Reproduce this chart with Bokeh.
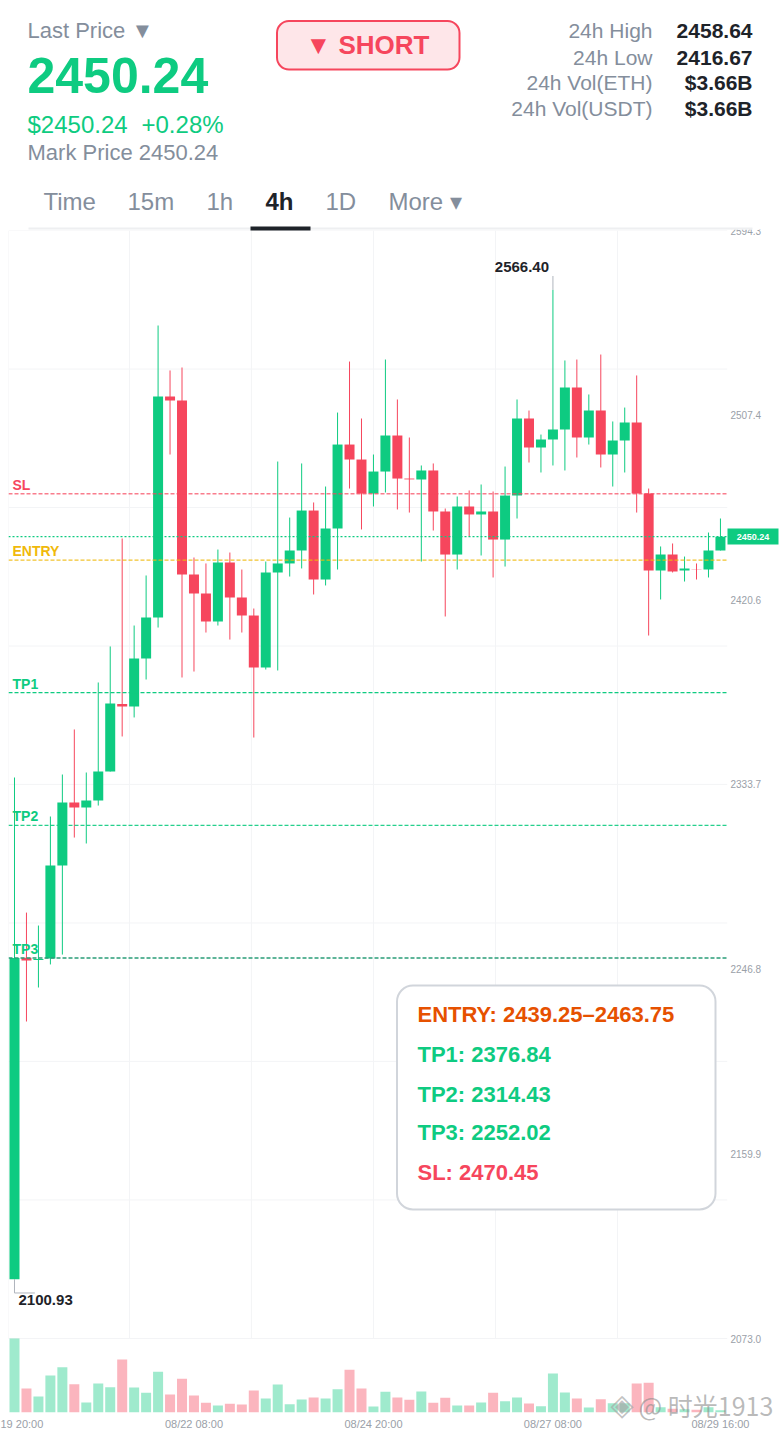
from bokeh.plotting import figure
from bokeh.models import Range1d, FixedTicker, Label, BoxAnnotation, ColumnDataSource
from bokeh.embed import file_html
from bokeh.resources import INLINE

FONT = "Liberation Sans"
CJK = "Noto Sans CJK SC"
GREEN = "#0ecb81"
RED = "#f6465d"
GRAY = "#848e9c"
DARK = "#1e2329"
YELLOW = "#f0b90b"
ORANGE = "#e65100"
GRID = "#f3f4f6"

opens = [2100.93,2252.1,2251.1,2251.8,2295.55,2325.2,2322.85,2326.15,2339.75,2371.55,2370.35,2392.95,2412.2,2516.2,2514.3,2432.45,2423.5,2410.35,2438.1,2421.65,
         2413.15,2388.7,2433.4,2437.65,2443.75,2462.55,2430.1,2454.1,2493.6,2486.55,2470.55,2480.9,2497.85,2477.6,2477.15,2481.4,2462.1,2441.85,2464.45,2460.7,
         2462.1,2448.9,2469.6,2505.85,2492.2,2495.95,2500.65,2520.45,2496.9,2509.6,2488.9,2495.5,2503.95,2470.55,2434.35,2441.85,2434.35,2435.1,2434.8,2443.75]
closes = [2252.02,2250.85,2251.55,2295.55,2325.2,2322.85,2326.15,2339.75,2371.75,2370.35,2392.95,2412.2,2516.2,2514.3,2432.45,2423.5,2410.35,2438.1,2421.65,2413.15,
          2388.7,2433.4,2437.65,2443.75,2462.55,2430.1,2454.1,2493.6,2486.55,2470.55,2480.9,2497.85,2477.6,2477.2,2481.4,2462.1,2441.85,2464.45,2460.7,2462.1,
          2448.9,2469.6,2505.85,2492.2,2495.95,2500.65,2520.45,2496.9,2509.6,2488.9,2495.5,2503.95,2470.55,2434.35,2441.85,2433.85,2435.3,2434.9,2443.75,2450.24]
highs = [2336.95,2273.4,2267.3,2318.6,2338.35,2359.55,2339.3,2381.65,2398.6,2449.4,2408.45,2432.0,2549.6,2528.45,2529.85,2440.45,2437.65,2444.2,2442.8,2434.8,
         2416.45,2438.55,2485.6,2459.25,2484.7,2466.35,2473.85,2508.65,2532.65,2505.85,2488.9,2533.6,2514.8,2496.9,2483.75,2484.7,2463.5,2469.15,2472.0,2474.8,
         2471.5,2483.25,2514.8,2509.6,2498.3,2566.4,2533.15,2533.6,2517.15,2535.95,2504.45,2511.0,2526.1,2472.9,2445.65,2447.05,2440.9,2437.65,2452.2,2458.8]
lows = [2100.93,2222.15,2238.15,2249.0,2253.65,2308.7,2305.9,2323.75,2339.75,2356.25,2365.2,2383.05,2407.5,2488.9,2384.0,2386.8,2405.15,2408.45,2401.85,2405.15,
        2355.75,2387.75,2387.3,2431.5,2435.3,2423.05,2427.3,2434.8,2472.9,2453.65,2464.45,2471.05,2463.05,2461.6,2438.55,2453.15,2412.7,2434.8,2450.35,2441.4,
        2431.05,2436.2,2458.8,2485.15,2480.45,2483.75,2481.4,2487.5,2493.6,2482.8,2473.85,2480.45,2461.6,2403.75,2420.7,2433.4,2429.15,2430.1,2431.05,2443.75]
volumes = [222,72,48,111,136,85,30,87,76,159,75,59,122,54,101,51,29,21,26,24,
           66,42,84,25,39,45,42,70,128,72,18,62,45,38,63,29,44,21,21,30,
           59,34,45,27,19,117,60,42,15,40,28,28,87,89,16,11,10,8,16,7]

price_ticks = [2594.3, 2507.4, 2420.6, 2333.7, 2246.8, 2159.9, 2073.0]
price_grid = [2529.1, 2464.0, 2398.8, 2333.7, 2268.5, 2203.4, 2138.2, 2073.0]
time_grid = [9.61, 19.80, 30.0, 40.2, 50.4]
time_ticks = {0: "19 20:00", 15: "08/22 08:00", 30: "08/24 20:00", 45: "08/27 08:00", 59: "08/29 16:00"}

ENTRY, LAST, SL, TP1, TP2, TP3 = 2439.25, 2450.24, 2470.45, 2376.84, 2314.43, 2252.02
PMAX, PMIN = 2566.40, 2100.93

Y_TOP, Y_BOTTOM, X_START, X_END = 2594.3, 2038.2, -0.5014, 59.59

p = figure(frame_width=719, frame_height=1182, height=1430, width=780, output_backend="svg", toolbar_location=None,
           x_range=Range1d(X_START, X_END), y_range=Range1d(Y_BOTTOM, Y_TOP),
           y_axis_location="right", min_border_left=8, min_border_right=53,
           min_border_top=230, min_border_bottom=18, outline_line_color=None,
           background_fill_color="white", border_fill_color="white")
p.grid.visible = False
p.extra_y_ranges = {"vol": Range1d(0, 3546)}

for ax, fs in ((p.xaxis[0], "11px"), (p.yaxis[0], "10px")):
    ax.axis_line_color = None
    ax.major_tick_line_color = None
    ax.minor_tick_line_color = None
    ax.major_tick_in = 0
    ax.major_tick_out = 0
    ax.minor_tick_in = 0
    ax.minor_tick_out = 0
    ax.major_label_text_color = "#9aa0a8"
    ax.major_label_text_font = FONT
    ax.major_label_text_font_size = fs
p.xaxis[0].ticker = FixedTicker(ticks=list(time_ticks))
p.xaxis[0].major_label_overrides = time_ticks
p.xaxis[0].major_label_standoff = 5
p.yaxis[0].ticker = FixedTicker(ticks=price_ticks)
p.yaxis[0].major_label_overrides = {t: f"{t:.1f}" for t in price_ticks}
p.yaxis[0].major_label_standoff = 3

# grid
p.segment(x0=[X_START] * len(price_grid), x1=[X_END] * len(price_grid), y0=price_grid, y1=price_grid, line_color=GRID, line_width=1)
p.segment(x0=[X_START, X_START], x1=[X_END, X_START], y0=[Y_TOP, Y_TOP], y1=[Y_TOP, 2073.0], line_color=GRID, line_width=1)
p.segment(x0=time_grid, x1=time_grid, y0=[Y_TOP] * 5, y1=[2073.0] * 5, line_color=GRID, line_width=1)

# volume and candles
x = list(range(len(opens)))
colors = [GREEN if c >= o else RED for o, c in zip(opens, closes)]
src = ColumnDataSource(dict(x=x, o=opens, c=closes, h=highs, l=lows, v=volumes, color=colors,
                            top=[max(a, b) for a, b in zip(opens, closes)],
                            bottom=[min(a, b) for a, b in zip(opens, closes)]))
BAR = 0.836
p.vbar(x="x", top="v", bottom=0, width=BAR, fill_color="color", fill_alpha=0.4, line_color=None, source=src, y_range_name="vol")
p.segment(x0="x", x1="x", y0="l", y1="h", line_color="color", line_width=1, source=src)
p.vbar(x="x", top="top", bottom="bottom", width=BAR, fill_color="color", line_color=None, source=src)

# level lines
for val, col, dash, alpha in ((SL, RED, "4 2", 0.7), (ENTRY, YELLOW, "4 2", 0.85), (LAST, GREEN, "2 2", 1),
                              (TP1, GREEN, "4 2", 1), (TP2, GREEN, "4 2", 0.9), (TP3, "#2a9d78", "4 2", 1)):
    p.segment(x0=[X_START], x1=[X_END], y0=[val], y1=[val], line_color=col, line_dash=dash, line_alpha=alpha, line_width=1.3)


def level_label(s, price, color):
    p.add_layout(Label(x=12, x_units="canvas", y=price, y_units="data", y_offset=1, text=s, text_font=FONT,
                       text_font_size="14px", text_font_style="bold", text_color=color, text_baseline="bottom"))


level_label("SL", SL, RED)
level_label("ENTRY", ENTRY, YELLOW)
level_label("TP1", TP1, GREEN)
level_label("TP2", TP2, GREEN)
level_label("TP3", TP3, GREEN)

# extremes
hi_i, lo_i = highs.index(PMAX), lows.index(PMIN)
p.segment(x0=[hi_i], x1=[hi_i], y0=[PMAX], y1=[PMAX + 6.5], line_color="#b0b5bd", line_width=1)
p.line(x=[lo_i, lo_i, lo_i + 1.7], y=[PMIN, PMIN - 6.5, PMIN - 6.5], line_color="#b0b5bd", line_width=1)
p.add_layout(Label(x=hi_i, y=PMAX, y_offset=23, x_offset=-31, text=f"{PMAX:.2f}", text_font=FONT, text_font_size="15px",
                   text_font_style="bold", text_color=DARK, text_align="center", text_baseline="middle"))
p.add_layout(Label(x=lo_i, y=PMIN, y_offset=-21, x_offset=4, text=f"{PMIN:.2f}", text_font=FONT, text_font_size="15px",
                   text_font_style="bold", text_color=DARK, text_align="left", text_baseline="middle"))

# transparent page-sized layer for everything outside the plot frame
o = figure(width=780, height=1430, output_backend="svg", toolbar_location=None,
           x_range=Range1d(0, 780), y_range=Range1d(1430, 0), x_axis_location=None, y_axis_location=None,
           min_border=0, outline_line_color=None, background_fill_alpha=0, border_fill_alpha=0,
           margin=(-1432, 0, 0, 0))
o.grid.visible = False


def box(l, t, r, b, fill, line=None, lw=0, radius=0):
    o.add_layout(BoxAnnotation(left=l, right=r, top=t, bottom=b, left_units="canvas", right_units="canvas",
                               top_units="canvas", bottom_units="canvas", fill_color=fill, fill_alpha=1,
                               line_color=line, line_width=lw, line_alpha=1 if line else 0, border_radius=radius,
                               editable=False))


def txt(s, sx, sy, size, color, bold=False, align="left", font=FONT, alpha=1.0):
    o.add_layout(Label(x=sx, y=sy, x_units="canvas", y_units="canvas", text=s, text_font=font,
                       text_font_size=f"{size}px", text_color=color, text_alpha=alpha,
                       text_font_style="bold" if bold else "normal", text_align=align, text_baseline="middle"))


box(725, 220, 780, 229, "white")
box(28, 227, 752, 229, "#eeeff1")
box(250, 226, 310, 230, DARK)

txt("Last Price ▼", 27, 30, 22, GRAY)
txt(f"{LAST:.2f}", 27, 75, 50, GREEN, bold=True)
txt(f"${LAST:.2f}", 27, 124, 24, GREEN)
txt("+0.28%", 141, 124, 24, GREEN)
txt(f"Mark Price {LAST:.2f}", 27, 152, 22, GRAY)
box(276.5, 20.5, 459, 69, "#fee6e9", RED, 2, 12)
txt("▼ SHORT", 367, 44, 26, RED, bold=True, align="center")
for s, v, yy in (("24h High", "2458.64", 30), ("24h Low", "2416.67", 57), ("24h Vol(ETH)", "$3.66B", 82), ("24h Vol(USDT)", "$3.66B", 108)):
    txt(s, 652, yy, 21, GRAY, align="right")
    txt(v, 752, yy, 21, DARK, bold=True, align="right")
for s, xx, active in (("Time", 43, False), ("15m", 127, False), ("1h", 206, False), ("4h", 265, True), ("1D", 325, False), ("More ▾", 388, False)):
    txt(s, xx, 201, 24, DARK if active else GRAY, bold=active)

box(727, 528, 778, 544, GREEN)
txt(f"{LAST:.2f}", 752.5, 536.5, 9, "white", bold=True, align="center")

box(396.5, 985, 715, 1209, "white", "#d1d5db", 2, 16)
txt("ENTRY: 2439.25–2463.75", 417, 1014, 22, ORANGE, bold=True)
txt(f"TP1: {TP1:.2f}", 417, 1054, 22, GREEN, bold=True)
txt(f"TP2: {TP2:.2f}", 417, 1094, 22, GREEN, bold=True)
txt(f"TP3: {TP3:.2f}", 417, 1132, 22, GREEN, bold=True)
txt(f"SL: {SL:.2f}", 417, 1172, 22, RED, bold=True)

txt("◈", 610, 1404, 30, "#a8a8a8", font="DejaVu Sans", alpha=0.7)
txt("@ 时光1913", 638, 1404, 25, "#8c8c8c", font=CJK, alpha=0.6)

open("out.html", "w").write(file_html((p, o), INLINE))
